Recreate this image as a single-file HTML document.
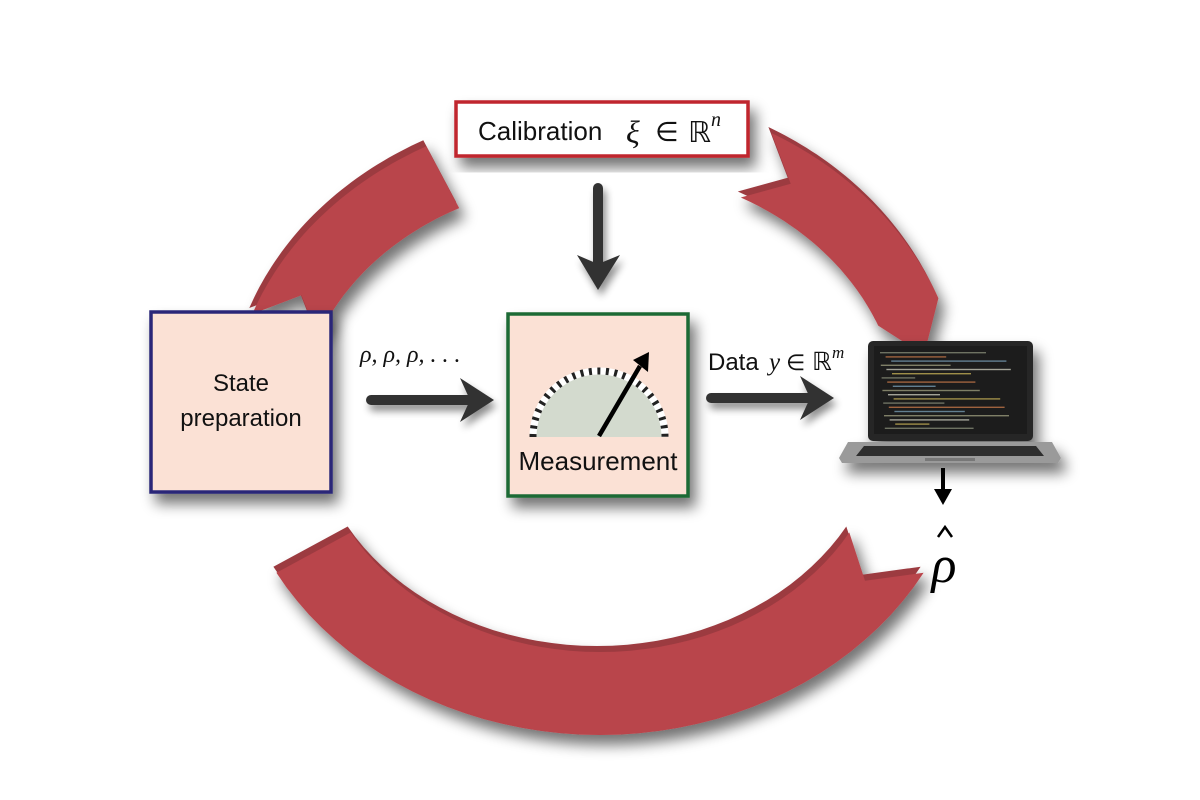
<!DOCTYPE html>
<html><head><meta charset="utf-8"><style>
html,body{margin:0;padding:0;background:#fff}
svg{display:block}
text{font-family:"Liberation Sans","DejaVu Sans",sans-serif}
.m{font-family:"Liberation Serif","DejaVu Serif",serif;font-style:italic}
</style></head><body>
<svg id="s" width="1200" height="800" viewBox="0 0 1200 800" xmlns="http://www.w3.org/2000/svg">
<defs>
<filter id="sh" x="-30%" y="-30%" width="160%" height="160%"><feGaussianBlur in="SourceAlpha" stdDeviation="7"/><feOffset dx="6" dy="10"/><feComponentTransfer><feFuncA type="linear" slope="0.55"/></feComponentTransfer><feMerge><feMergeNode/><feMergeNode in="SourceGraphic"/></feMerge></filter>
<filter id="sh2" x="-30%" y="-30%" width="160%" height="160%"><feGaussianBlur in="SourceAlpha" stdDeviation="4"/><feOffset dx="3" dy="6"/><feComponentTransfer><feFuncA type="linear" slope="0.45"/></feComponentTransfer><feMerge><feMergeNode/><feMergeNode in="SourceGraphic"/></feMerge></filter>
</defs>
<g id="arcs" filter="url(#sh)"></g>

<!-- Calibration box -->
<rect x="456" y="102" width="292" height="54" fill="#fff" stroke="#c0262e" stroke-width="3.5" filter="url(#sh)"/>
<text x="478" y="140" font-size="26" fill="#111">Calibration</text>
<text x="626" y="143" font-size="32" class="m" fill="#111">ξ</text>
<text x="655" y="141" font-size="27" fill="#111" font-family="DejaVu Sans">∈</text>
<text x="688" y="142" font-size="29" fill="#111" font-family="DejaVu Serif">ℝ</text>
<text x="711" y="126" font-size="20" class="m" fill="#111">n</text>

<!-- down arrow -->
<g filter="url(#sh2)" fill="#333">
<rect x="593" y="183" width="10" height="85" rx="5"/>
<path d="M577 255 L598 290 L620 255 L598 264 Z"/>
</g>

<!-- State prep -->
<rect x="151" y="312" width="180" height="180" fill="#fbe1d5" stroke="#2a2878" stroke-width="3.5" filter="url(#sh)"/>
<text x="241" y="391" font-size="24" text-anchor="middle" fill="#111">State</text>
<text x="241" y="426" font-size="24" text-anchor="middle" fill="#111">preparation</text>

<!-- rho arrow -->
<text x="360" y="362" font-size="24" class="m" fill="#111">ρ, ρ, ρ, . . .</text>
<g filter="url(#sh2)" fill="#333">
<rect x="366" y="395" width="110" height="10" rx="5"/>
<path d="M460 378 L494 400 L460 422 L470 400 Z"/>
</g>

<!-- Measurement -->
<rect x="508" y="314" width="180" height="182" fill="#fbe1d5" stroke="#1e6a34" stroke-width="3.5" filter="url(#sh)"/>
<path d="M535 437 A64 64 0 0 1 663 437 Z" fill="#d3dace"/>
<path d="M533 437 A66 66 0 0 1 665 437" fill="none" stroke="#fff" stroke-width="7"/>
<path d="M533 437 A66 66 0 0 1 665 437" fill="none" stroke="#222" stroke-width="7" stroke-dasharray="3 5.5"/>
<line x1="599" y1="436" x2="640" y2="366" stroke="#000" stroke-width="4.5"/>
<path d="M633 360 L649 352 L648 372 Z" fill="#000"/>
<text x="598" y="470" font-size="26" text-anchor="middle" fill="#111">Measurement</text>

<!-- data arrow -->
<text x="708" y="370" font-size="24" fill="#111">Data</text>
<text x="769" y="370" font-size="25" class="m" fill="#111">y</text>
<text x="786" y="370" font-size="22" fill="#111" font-family="DejaVu Sans">∈</text>
<text x="812" y="370" font-size="25" fill="#111" font-family="DejaVu Serif">ℝ</text>
<text x="832" y="358" font-size="17" class="m" fill="#111">m</text>
<g filter="url(#sh2)" fill="#333">
<rect x="706" y="393" width="110" height="10" rx="5"/>
<path d="M800 376 L834 398 L800 420 L810 398 Z"/>
</g>

<!-- laptop -->
<g filter="url(#sh)">
<rect x="868" y="341" width="165" height="100" rx="5" fill="#262626"/>
<rect x="874" y="346" width="153" height="88" fill="#1d1f1c"/>
<path d="M848 442 L1052 442 L1061 458 L1058 463 L842 463 L839 458 Z" fill="#9a9a9a"/>
<path d="M864 446 L1036 446 L1044 456 L856 456 Z" fill="#2d2d2d"/>
<rect x="925" y="458" width="50" height="3" fill="#777"/>
</g>
<g id="code"></g>

<!-- rho hat -->
<rect x="941" y="468" width="4" height="24" fill="#000"/>
<path d="M934 489 L943 505 L952 489 Z" fill="#000"/>
<text x="944" y="582" font-size="52" class="m" text-anchor="middle" fill="#000">ρ</text>
<path d="M938 537 L945 527 L952 537" fill="none" stroke="#000" stroke-width="2.5"/>

<script>
(function(){
var NS="http://www.w3.org/2000/svg";
var cx=600,cy=420;
function pt(rx,ry,a){a=a*Math.PI/180;return [cx+rx*Math.cos(a),cy+ry*Math.sin(a)];}
function band(a0,a1,ro,ri,startNotch,endPoint){
  var o=[],i=[],n=40;
  for(var k=0;k<=n;k++){var a=a0+(a1-a0)*k/n;o.push(pt(ro[0],ro[1],a));i.push(pt(ri[0],ri[1],a));}
  var p=[];
  o.forEach(function(q){p.push(q)});
  var dir=a1>a0?1:-1;
  var mr=[(ro[0]+ri[0])/2,(ro[1]+ri[1])/2];
  if(endPoint){p.push(pt(mr[0],mr[1],a1+dir*9));}
  for(var k=n;k>=0;k--)p.push(i[k]);
  if(startNotch){p.push(pt(mr[0],mr[1],a0+dir*7));}
  return "M"+p.map(function(q){return q[0].toFixed(1)+" "+q[1].toFixed(1)}).join(" L")+"Z";
}
var g=document.getElementById("arcs");
var shapes=[
 band(200,242,[370,310],[300,240],true,false),
 band(298,338,[365,325],[300,252],true,true),
 band(29,151,[370,315],[285,232],true,false)
];
shapes.forEach(function(d){
  var e=document.createElementNS(NS,"path");e.setAttribute("d",d);e.setAttribute("fill","#9c3a40");e.setAttribute("transform","translate(-3,-6)");g.appendChild(e);
  var f=document.createElementNS(NS,"path");f.setAttribute("d",d);f.setAttribute("fill","#b9444b");g.appendChild(f);
});
var c=document.getElementById("code");
var cols=["#c9b458","#8a8f7a","#c97a4a","#7aa0b8","#a0a080","#d0d0c0"];
var s=7;
for(var y=352;y<430;y+=4.2){
  var x=880+((y*7)%4)*4; var w=30+((y*13)%100);
  if(x+w>1022)w=1022-x;
  var r=document.createElementNS(NS,"rect");
  r.setAttribute("x",x);r.setAttribute("y",y);r.setAttribute("width",w);r.setAttribute("height",1.4);
  r.setAttribute("fill",cols[(s++)%cols.length]);r.setAttribute("opacity","0.75");c.appendChild(r);
}
})();
</script>
</svg>
</body></html>
